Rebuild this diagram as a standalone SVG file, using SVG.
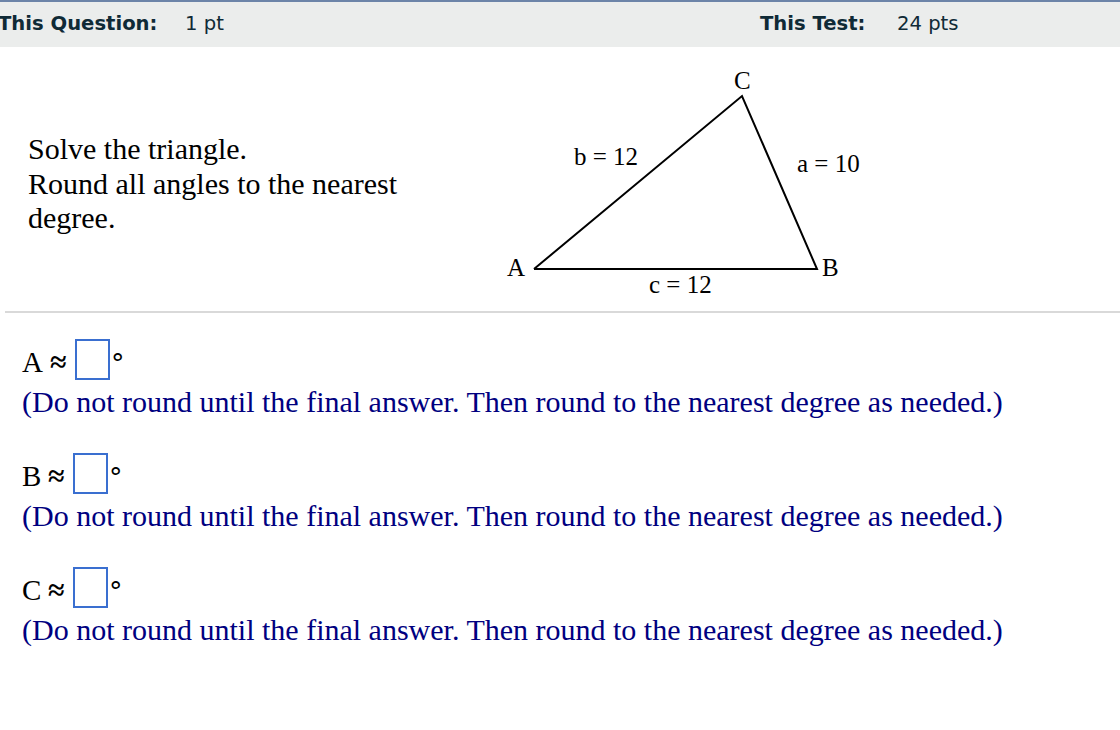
<svg xmlns="http://www.w3.org/2000/svg" width="1120" height="730" viewBox="0 0 1120 730">
<style>
.hdrb{font-family:"DejaVu Sans",Verdana,sans-serif;font-weight:bold;font-size:19.6px;fill:#0f2a36}
.hdr{font-family:"DejaVu Sans",Verdana,sans-serif;font-size:19.6px;fill:#0f2a36}
.serif{font-family:"Liberation Serif","Times New Roman",serif;fill:#000}
.q{font-size:30px}
.lbl{font-size:25px}
.note{font-family:"Liberation Serif","Times New Roman",serif;font-size:30px;fill:#000080}
.ans{font-family:"Liberation Serif","Times New Roman",serif;font-size:29px;fill:#000}
.apx{font-family:"Liberation Serif","Times New Roman",serif;font-size:30px;font-weight:bold;fill:#000}
.box{fill:#fff;stroke:#3a6fd0;stroke-width:2}
.deg{font-family:"DejaVu Sans",sans-serif;font-size:27px;fill:#000}
.edge{stroke:#000;stroke-width:2;fill:none}
</style>
<rect x="0" y="0" width="1120" height="730" fill="#fff"/>
<g id="header">
<rect x="0" y="0" width="1120" height="47" fill="#ebedec"/>
<rect x="0" y="0" width="1120" height="2" fill="#6c84a8"/>
<text class="hdrb" x="-2" y="30">This Question:</text>
<text class="hdr" x="185" y="30">1 pt</text>
<text class="hdrb" x="760" y="30">This Test:</text>
<text class="hdr" x="897" y="30">24 pts</text>
</g>
<g id="question">
<text class="serif q" x="28" y="159">Solve the triangle.</text>
<text class="serif q" x="28" y="194">Round all angles to the nearest</text>
<text class="serif q" x="28" y="228">degree.</text>
</g>
<g id="connectors">
<polyline class="edge" points="534,269 817,269 742,96 534,269"/>
</g>
<g id="vertexA"><text class="serif lbl" x="507" y="276">A</text></g>
<g id="vertexB"><text class="serif lbl" x="822" y="276">B</text></g>
<g id="vertexC"><text class="serif lbl" x="734" y="89">C</text></g>
<g id="labels">
<text class="serif lbl" x="574" y="165">b = 12</text>
<text class="serif lbl" x="797" y="172">a = 10</text>
<text class="serif lbl" x="649" y="293">c = 12</text>
</g>
<line x1="5" y1="312" x2="1120" y2="312" stroke="#cccccc" stroke-width="1.5"/>
<g id="answerA">
<text class="ans" x="22" y="372">A</text>
<text class="apx" x="50" y="372">≈</text>
<rect class="box" x="76" y="340" width="33" height="39"/>
<text class="deg" x="111" y="373">°</text>
<text class="note" x="22" y="412">(Do not round until the final answer. Then round to the nearest degree as needed.)</text>
</g>
<g id="answerB">
<text class="ans" x="22" y="486">B</text>
<text class="apx" x="48" y="486">≈</text>
<rect class="box" x="74" y="454" width="33" height="39"/>
<text class="deg" x="109" y="487">°</text>
<text class="note" x="22" y="526">(Do not round until the final answer. Then round to the nearest degree as needed.)</text>
</g>
<g id="answerC">
<text class="ans" x="22" y="600">C</text>
<text class="apx" x="48" y="600">≈</text>
<rect class="box" x="74" y="568" width="33" height="39"/>
<text class="deg" x="109" y="601">°</text>
<text class="note" x="22" y="640">(Do not round until the final answer. Then round to the nearest degree as needed.)</text>
</g>
</svg>
